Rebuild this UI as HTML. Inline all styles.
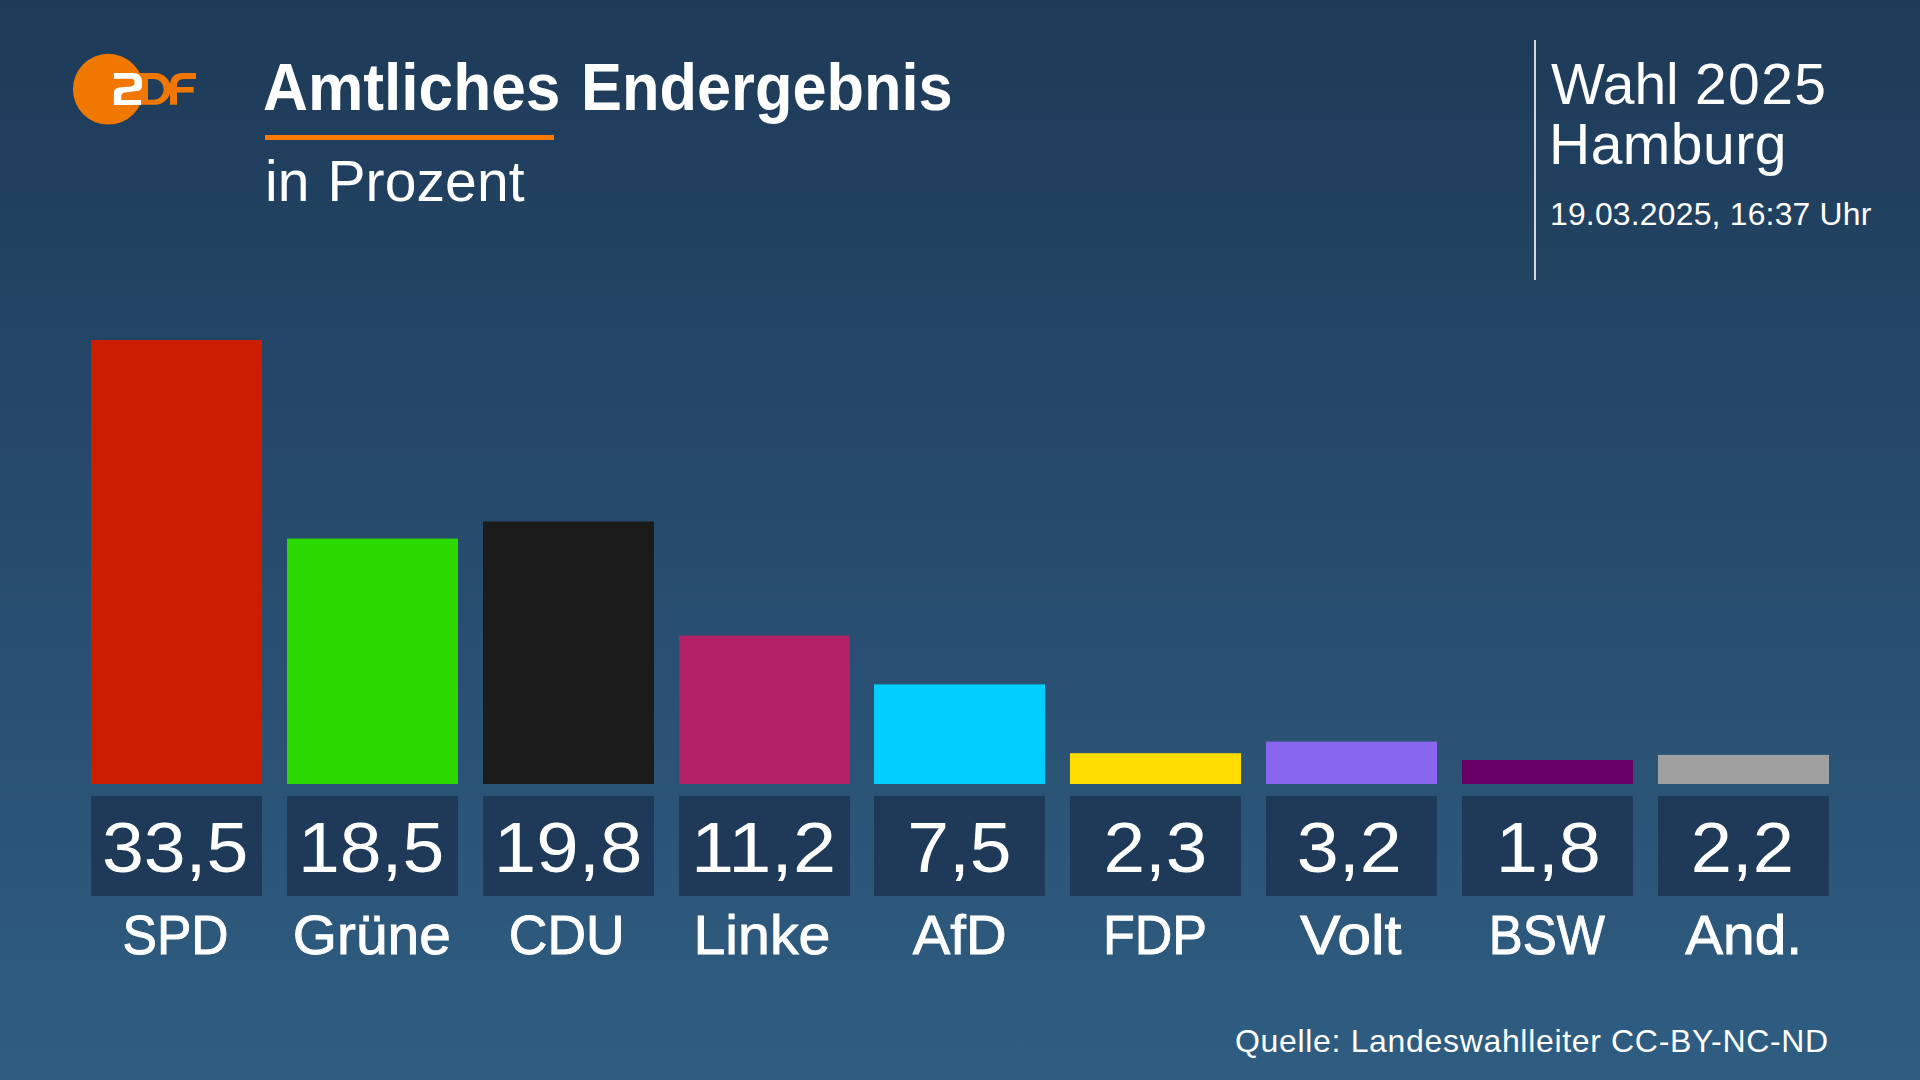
<!DOCTYPE html>
<html><head><meta charset="utf-8">
<style>
html,body{margin:0;padding:0;}
body{width:1920px;height:1080px;overflow:hidden;position:relative;
background:linear-gradient(to bottom,#1e3a58 0%,#2f5d82 100%);
font-family:"Liberation Sans",sans-serif;color:#fff;}
.a{position:absolute;white-space:nowrap;line-height:1;}
.bar{position:absolute;width:171px;bottom:296px;}
.val{position:absolute;top:796px;width:171px;height:100px;background:#1e3a58;}
.num{position:absolute;top:797.5px;width:400px;text-align:center;font-size:71px;line-height:100px;}
.num span,.lab span{display:inline-block;transform-origin:50% 50%;}
.lab{position:absolute;top:907px;width:400px;text-align:center;font-size:56px;line-height:1;-webkit-text-stroke:0.9px #fff;}
</style></head><body>

<svg class="a" style="left:0;top:0" width="220" height="150" viewBox="0 0 220 150">
 <circle cx="108.3" cy="89.2" r="35.4" fill="#f07800"/>
 <path fill="#f07800" fill-rule="evenodd" d="M136,72.9 H155 A15.7,15.9 0 0 1 155,104.75 H136 Z M148,79.1 V99.7 H154 A9.7,10.3 0 0 0 154,79.1 Z"/>
 <path fill="#f07800" d="M170,104.75 V86 Q170,72.9 183,72.9 H196 V78.9 H183.5 Q177,78.9 177,85.5 V87.06 H193.7 V92.5 H177 V104.75 Z"/>
 <path fill="#fff" d="M113.9,73 H133 Q141.9,73 141.9,81.6 V85.5 Q141.9,91.1 136.5,91.1 L126.9,92.2 Q121.3,92.5 121.3,96 V99.9 H141 V104.9 H113.9 V93 Q113.9,87.8 119.5,87.5 L130.4,86.5 Q134.6,86.2 134.6,82.5 Q134.6,78.8 131,78.8 H113.9 Z"/>
</svg>

<div class="a" id="title" style="left:263px;top:53.5px;font-size:66px;font-weight:700;transform:scaleX(0.943);transform-origin:0 0;">Amtliches</div>
<div class="a" id="title2" style="left:581px;top:53.5px;font-size:66px;font-weight:700;transform:scaleX(0.93);transform-origin:0 0;">Endergebnis</div>
<div class="a" style="left:265px;top:135px;width:289px;height:5px;background:#ff7800;"></div>
<div class="a" id="sub" style="left:265px;top:153px;font-size:57px;letter-spacing:0.1px;word-spacing:2px;">in Prozent</div>

<div class="a" style="left:1534px;top:40px;width:2px;height:240px;background:#d3d8de;"></div>
<div class="a" id="wahl" style="left:1551px;top:55.5px;font-size:57px;">Wahl</div>
<div class="a" id="y2025" style="left:1695px;top:55.5px;font-size:57px;letter-spacing:1.4px;">2025</div>
<div class="a" id="hh" style="left:1549px;top:116px;font-size:57px;letter-spacing:0.5px;">Hamburg</div>
<div class="a" id="date" style="left:1549.5px;top:199px;font-size:30.5px;letter-spacing:0.2px;transform:scaleX(1.045);transform-origin:0 0;">19.03.2025, 16:37 Uhr</div>

<svg class="a" style="left:0;top:0" width="1920" height="800" viewBox="0 0 1920 800"><rect x="91" y="340" width="171" height="444.0" fill="#cc1d00"/><rect x="287" y="538.6" width="171" height="245.4" fill="#2bd900"/><rect x="483" y="521.5" width="171" height="262.5" fill="#1b1b1b"/><rect x="679" y="635.6" width="171" height="148.4" fill="#b32066"/><rect x="874" y="684.4" width="171" height="99.6" fill="#00cfff"/><rect x="1070" y="753.2" width="171" height="30.8" fill="#ffdd00"/><rect x="1266" y="741.6" width="171" height="42.4" fill="#8866ee"/><rect x="1462" y="760" width="171" height="24.0" fill="#660066"/><rect x="1658" y="754.9" width="171" height="29.1" fill="#a0a0a0"/></svg>

<div class="val" style="left:91px"></div>
<div class="val" style="left:287px"></div>
<div class="val" style="left:483px"></div>
<div class="val" style="left:679px"></div>
<div class="val" style="left:874px"></div>
<div class="val" style="left:1070px"></div>
<div class="val" style="left:1266px"></div>
<div class="val" style="left:1462px"></div>
<div class="val" style="left:1658px"></div>
<div class="num" style="left:-24.60px"><span style="transform:scaleX(1.0596)">33,5</span></div>
<div class="num" style="left:171.29px"><span style="transform:scaleX(1.0583)">18,5</span></div>
<div class="num" style="left:368.12px"><span style="transform:scaleX(1.0744)">19,8</span></div>
<div class="num" style="left:563.30px"><span style="transform:scaleX(1.0918)">11,2</span></div>
<div class="num" style="left:759.60px"><span style="transform:scaleX(1.0574)">7,5</span></div>
<div class="num" style="left:955.20px"><span style="transform:scaleX(1.0530)">2,3</span></div>
<div class="num" style="left:1149.60px"><span style="transform:scaleX(1.0639)">3,2</span></div>
<div class="num" style="left:1348.17px"><span style="transform:scaleX(1.0667)">1,8</span></div>
<div class="num" style="left:1542.75px"><span style="transform:scaleX(1.0433)">2,2</span></div>
<div class="lab" style="left:-24.80px"><span style="transform:scaleX(0.9207)">SPD</span></div>
<div class="lab" style="left:171.40px"><span style="transform:scaleX(1.0147)">Grüne</span></div>
<div class="lab" style="left:366.73px"><span style="transform:scaleX(0.9535)">CDU</span></div>
<div class="lab" style="left:562.34px"><span style="transform:scaleX(1.0219)">Linke</span></div>
<div class="lab" style="left:759.43px"><span style="transform:scaleX(1.0047)">AfD</span></div>
<div class="lab" style="left:954.78px"><span style="transform:scaleX(0.9292)">FDP</span></div>
<div class="lab" style="left:1150.55px"><span style="transform:scaleX(1.0868)">Volt</span></div>
<div class="lab" style="left:1346.34px"><span style="transform:scaleX(0.9105)">BSW</span></div>
<div class="lab" style="left:1543.72px"><span style="transform:scaleX(1.0143)">And.</span></div>

<div class="a" id="src" style="left:1235px;top:1025px;font-size:32px;letter-spacing:0.67px;">Quelle: Landeswahlleiter CC-BY-NC-ND</div>
</body></html>
